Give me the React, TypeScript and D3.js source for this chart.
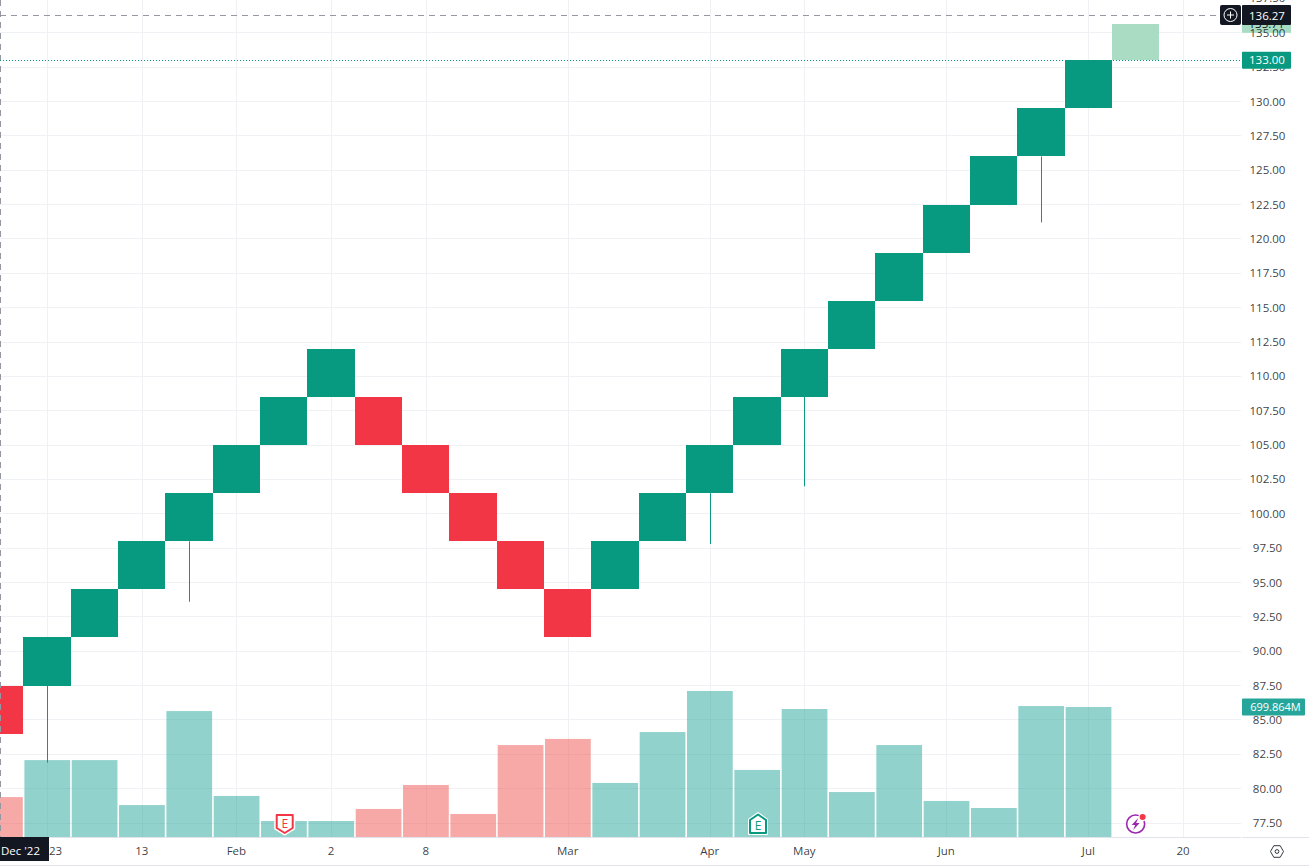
import { useMemo } from "react";
import * as d3 from "d3";

// renko bricks, the first one is cut off by the left edge
const slots = [-1, 0, 1, 2, 3, 4, 5, 6, 7, 8, 9, 10, 11, 12, 13, 14, 15, 16, 17, 18, 19, 20, 21, 22, 23, 24];
const brickSlots = [-1, 0, 1, 2, 3, 4, 5, 6, 7, 8, 9, 10, 11, 12, 13, 14, 15, 16, 17, 18, 19, 20, 21, 22];
const brickOpen = [87.5, 87.5, 91, 94.5, 98, 101.5, 105, 108.5, 108.5, 105, 101.5, 98, 94.5, 94.5, 98, 101.5, 105, 108.5, 112, 115.5, 119, 122.5, 126, 129.5];
const brickClose = [84, 91, 94.5, 98, 101.5, 105, 108.5, 112, 105, 101.5, 98, 94.5, 91, 98, 101.5, 105, 108.5, 112, 115.5, 119, 122.5, 126, 129.5, 133];
const volumes = [215, 414, 414, 172, 678, 221, 86, 86, 151, 280, 124, 495, 528, 291, 565, 786, 361, 689, 242, 495, 194, 156, 705, 699.864];

const wickSlots = [0, 3, 14, 16, 21];
const wickTop = [87.5, 98, 101.5, 108.5, 126];
const wickLow = [81.9, 93.6, 97.8, 102, 121.2];

const projectionSlot = 23;
const projectionOpen = 133;
const projectionClose = 135.65;

const priceTicks = [137.5, 135, 132.5, 130, 127.5, 125, 122.5, 120, 117.5, 115, 112.5, 110, 107.5, 105, 102.5, 100, 97.5, 95, 92.5, 90, 87.5, 85, 82.5, 80, 77.5];
const timeSlots = [0, 2, 4, 6, 8, 11, 14, 16, 19, 22, 24];
const timeLabels = ["23", "13", "Feb", "2", "8", "Mar", "Apr", "May", "Jun", "Jul", "20"];

const lastPrice = 133;
const crosshairPrice = 136.27;
const lastVolume = 699.864;

const GREEN = "#089981";
const RED = "#f23645";
const TEXT = "#131722";
const GRID = "#f0f1f4";
const LINE = "#e0e3eb";
const FONT = "'Open Sans', sans-serif";

const paneRight = 1241;
const paneBottom = 837;

export default function App() {
  const x = useMemo(
    () =>
      d3
        .scaleBand<number>()
        .domain(slots)
        .range([23.4 - 47.33, 23.4 + 25 * 47.33]),
    [],
  );
  const y = useMemo(() => d3.scaleLinear().domain([77.5, 130]).range([823, 101.5]), []);
  const yVol = useMemo(() => d3.scaleLinear().domain([0, 800]).range([paneBottom, paneBottom - 148.6]), []);
  const step = x.bandwidth();
  const mid = (s: number) => x(s)! + step / 2;
  const pixel = (s: number) => Math.round(mid(s)) + 0.5;

  return (
    <svg
      width={1309}
      height={866}
      style={{ position: "absolute", left: 0, top: 0, background: "#fff", fontFamily: FONT }}
    >
      {/* grid */}
      {priceTicks.map((t) => (
        <line key={t} x1={0} x2={paneRight} y1={Math.floor(y(t)) + 0.5} y2={Math.floor(y(t)) + 0.5} stroke={GRID} />
      ))}
      {timeSlots.map((s) => (
        <line key={s} x1={pixel(s)} x2={pixel(s)} y1={0} y2={paneBottom} stroke={GRID} />
      ))}

      {/* volume */}
      {brickSlots.map((s, i) => (
        <rect
          key={s}
          x={x(s)! + 1}
          y={yVol(volumes[i])}
          width={step - 1.6}
          height={paneBottom - yVol(volumes[i])}
          fill={brickClose[i] >= brickOpen[i] ? "#26a69a" : "#ef5350"}
          fillOpacity={0.5}
        />
      ))}

      {/* wicks */}
      {wickSlots.map((s, i) => (
        <line key={s} x1={pixel(s)} x2={pixel(s)} y1={y(wickTop[i])} y2={y(wickLow[i])} stroke={GREEN} />
      ))}

      {/* bricks */}
      {brickSlots.map((s, i) => (
        <rect
          key={s}
          x={x(s)!}
          y={y(Math.max(brickOpen[i], brickClose[i]))}
          width={step}
          height={Math.abs(y(brickOpen[i]) - y(brickClose[i]))}
          fill={brickClose[i] >= brickOpen[i] ? GREEN : RED}
          shapeRendering="crispEdges"
        />
      ))}
      <rect
        x={x(projectionSlot)!}
        y={y(projectionClose)}
        width={step}
        height={y(projectionOpen) - y(projectionClose)}
        fill="#a9dcc3"
        shapeRendering="crispEdges"
      />

      {/* earnings and dividend markers */}
      <g transform={`translate(${mid(5) + 1},823.5)`}>
        <path d="M-9,-9.5 H9 V5 L0,10.5 L-9,5 Z" fill="#fff" stroke="#fff" strokeWidth={3} strokeLinejoin="round" />
        <path d="M-8,-8.5 H8 V4.5 L0,9.5 L-8,4.5 Z" fill="#fff" stroke={RED} strokeWidth={2} strokeLinejoin="round" />
        <text y={4.5} textAnchor="middle" fontSize={12} fill={RED}>
          E
        </text>
      </g>
      <g transform={`translate(${mid(15) + 1},824)`}>
        <path d="M-9,-4.5 L0,-11 L9,-4.5 V10 H-9 Z" fill="#fff" stroke="#fff" strokeWidth={2} strokeLinejoin="round" />
        <path d="M-8,-4 L0,-9.5 L8,-4 V9 H-8 Z" fill="#fff" stroke={GREEN} strokeWidth={2} strokeLinejoin="round" />
        <text y={6} textAnchor="middle" fontSize={12} fill={GREEN}>
          E
        </text>
      </g>
      <g transform={`translate(${mid(projectionSlot)},824)`}>
        <circle r={9} fill="#fff" stroke="#9c27b0" strokeWidth={1.6} />
        <path d="M2.5,-6 L-4,1 H-0.5 L-2.5,6 L4,-1 H0.5 Z" fill="#9c27b0" />
        <circle cx={7} cy={-7} r={4.2} fill="#fff" />
        <circle cx={7} cy={-7} r={3} fill={RED} />
      </g>

      {/* crosshair and last price lines */}
      <line x1={0} x2={1220} y1={15.5} y2={15.5} stroke="#9598a1" strokeDasharray="6 5" />
      <line x1={0.5} x2={0.5} y1={0} y2={paneBottom} stroke="#9598a1" strokeDasharray="6 5" />
      <line x1={0} x2={1242} y1={60.5} y2={60.5} stroke={GREEN} strokeDasharray="1 2" />

      {/* axis borders */}
      <line x1={0} x2={paneRight} y1={paneBottom + 0.5} y2={paneBottom + 0.5} stroke={LINE} />
      <line x1={paneRight + 1} x2={1309} y1={paneBottom + 0.5} y2={paneBottom + 0.5} stroke={LINE} />
      <line x1={0} x2={1309} y1={865.5} y2={865.5} stroke={LINE} />

      {/* projected brick label sits under the tick text */}
      <rect x={1242} y={y(projectionClose) - 8} width={49} height={17} fill="#a9dcc3" />
      <text x={1266.5} y={y(projectionClose) + 4.5} textAnchor="middle" fontSize={11.5} fill={TEXT}>
        135.71
      </text>

      {/* price axis */}
      {priceTicks.map((t) => (
        <text key={t} x={1267.5} y={y(t) + 4} textAnchor="middle" fontSize={11.5} fill={TEXT} fillOpacity={0.85}>
          {t.toFixed(2)}
        </text>
      ))}

      {/* time axis, the first label is pushed clear of the date box */}
      {timeSlots.map((s, i) => (
        <text
          key={s}
          x={i === 0 ? 55.5 : mid(s)}
          y={855}
          textAnchor="middle"
          fontSize={11.5}
          fill={TEXT}
          fillOpacity={0.85}
        >
          {timeLabels[i]}
        </text>
      ))}

      {/* price labels */}
      <rect x={1242} y={y(lastPrice) - 8.5} width={49} height={17} rx={1} fill={GREEN} />
      <text x={1267} y={y(lastPrice) + 4.2} textAnchor="middle" fontSize={11.5} fontWeight={500} fill="#fff">
        {lastPrice.toFixed(2)}
      </text>

      <rect x={1242} y={yVol(lastVolume) - 8.5} width={63} height={17} rx={1} fill="#26a69a" />
      <text x={1275.5} y={yVol(lastVolume) + 4.2} textAnchor="middle" fontSize={11} fontWeight={500} fill="#fff">
        {lastVolume.toFixed(3)}M
      </text>

      <rect x={1220} y={5} width={21} height={20} rx={2} fill={TEXT} />
      <circle cx={1230.5} cy={15} r={6.5} fill="none" stroke="#fff" />
      <path d="M1230.5,11.5 V18.5 M1227,15 H1234" stroke="#fff" />
      <rect x={1242} y={5} width={49} height={20} rx={1} fill={TEXT} />
      <text x={1267} y={19.5} textAnchor="middle" fontSize={11.5} fontWeight={500} fill="#fff">
        {crosshairPrice.toFixed(2)}
      </text>

      <rect x={0} y={paneBottom} width={49} height={24} fill={TEXT} />
      <text x={20.5} y={855} textAnchor="middle" fontSize={11.5} fontWeight={500} fill="#fff">
        Dec &apos;22
      </text>

      {/* settings hexagon */}
      <g transform="translate(1277,851.5)" fill="none" stroke={TEXT} strokeOpacity={0.85}>
        <path d="M-6.5,0 L-3.2,-5.8 H3.2 L6.5,0 L3.2,5.8 H-3.2 Z" strokeLinejoin="round" />
        <circle r={1.9} />
      </g>
    </svg>
  );
}
